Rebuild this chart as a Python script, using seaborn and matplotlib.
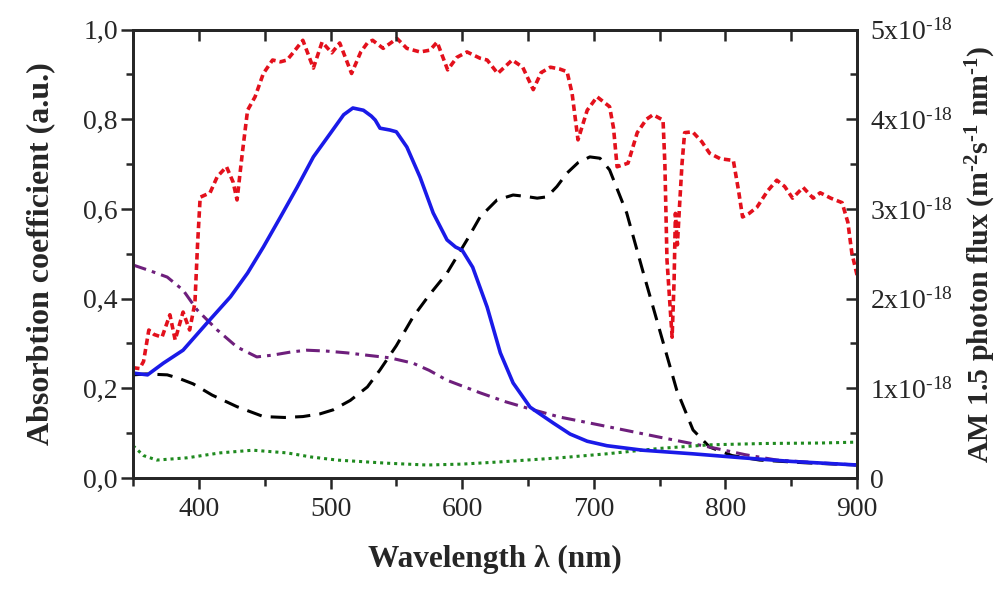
import numpy as np
import pandas as pd
import seaborn as sns
import matplotlib.pyplot as plt
from matplotlib.ticker import MultipleLocator, FixedLocator, FixedFormatter

# blue solid curve (absorption)
wl_blue = [350, 361, 373, 388, 406, 424, 437, 449, 462, 474.6, 487, 500, 510, 517, 525, 531, 534,
           537.6, 545, 550, 558, 568, 578, 588.5, 595, 600, 608, 619, 629, 638.7, 651.6, 669, 682,
           695, 710, 737, 775, 813, 850, 900]
abs_blue = [0.234, 0.23, 0.256, 0.285, 0.345, 0.404, 0.457, 0.515, 0.582, 0.648, 0.716, 0.769, 0.81,
            0.825, 0.82, 0.807, 0.798, 0.78, 0.776, 0.772, 0.738, 0.671, 0.591, 0.531, 0.515, 0.508,
            0.47, 0.381, 0.279, 0.212, 0.158, 0.123, 0.098, 0.082, 0.072, 0.062, 0.054, 0.045,
            0.037, 0.029]

# black dashed curve
wl_black = [350, 360, 376, 385, 395.6, 410, 429, 449, 465, 479, 492, 502, 515, 528, 537.6, 550,
            562.7, 575, 588.5, 603.7, 613.6, 626.5, 638.7, 648, 657, 664.5, 672, 679.7, 688, 697,
            704.7, 712, 725, 737, 750, 763, 775.4, 788, 805, 826, 860, 900]
abs_black = [0.23, 0.232, 0.23, 0.222, 0.21, 0.185, 0.159, 0.137, 0.135, 0.137, 0.143, 0.152, 0.173,
             0.203, 0.241, 0.295, 0.359, 0.408, 0.457, 0.531, 0.582, 0.62, 0.631, 0.628, 0.624,
             0.627, 0.65, 0.68, 0.703, 0.716, 0.713, 0.687, 0.591, 0.464, 0.33, 0.196, 0.107, 0.069,
             0.05, 0.04, 0.034, 0.029]

# purple dash-dot curve
wl_purple = [350, 363, 376, 388, 398.6, 414, 429, 444, 456, 470, 482, 497, 512.6, 530, 545, 562.7,
             575, 588.5, 613.6, 633, 654, 674, 704.7, 750, 788, 815, 839, 870, 900]
abs_purple = [0.475, 0.462, 0.448, 0.419, 0.375, 0.33, 0.292, 0.27, 0.274, 0.281, 0.285, 0.283,
              0.279, 0.273, 0.268, 0.256, 0.24, 0.218, 0.19, 0.17, 0.152, 0.136, 0.118, 0.091,
              0.069, 0.052, 0.04, 0.034, 0.029]

# green dotted curve
wl_green = [350, 358, 368, 391, 416, 441, 467, 485, 505, 543, 573, 600, 629, 674, 710, 750, 788,
            830, 872, 900]
abs_green = [0.072, 0.05, 0.04, 0.045, 0.056, 0.062, 0.056, 0.047, 0.04, 0.033, 0.029, 0.031, 0.036,
             0.045, 0.054, 0.066, 0.074, 0.077, 0.078, 0.08]

# red AM1.5 photon flux, in units of 1e-18 m^-2 s^-1 nm^-1
wl_red = [350, 355, 358, 362, 366, 372, 378, 382, 388, 393, 397, 399, 401, 408.5, 414, 421, 426, 429,
          433, 437, 442.7, 449, 456, 462, 467, 471.5, 479, 487, 493.6, 501, 507, 516, 523, 528, 532,
          540, 550.5, 558, 568, 575.6, 581, 589, 596, 603.7, 613.6, 619, 627, 638, 646, 654, 660,
          667, 674, 679.7, 683.5, 688, 695, 702.5, 712, 715, 717.7, 726, 733, 740, 745, 752.6, 754,
          755.6, 758, 759.5, 761, 762, 763.5, 765, 767, 769, 775, 782, 788, 796, 806, 810, 813, 818,
          824, 832, 839, 845, 851, 859, 866.6, 872, 880, 888.6, 893, 896, 900]
flux_red = [1.23, 1.22, 1.3, 1.65, 1.6, 1.57, 1.82, 1.54, 1.85, 1.65, 1.95, 2.6, 3.13, 3.18, 3.36,
            3.47, 3.3, 3.1, 3.62, 4.1, 4.25, 4.51, 4.66, 4.64, 4.66, 4.74, 4.88, 4.57, 4.86, 4.74,
            4.85, 4.51, 4.75, 4.85, 4.88, 4.79, 4.9, 4.79, 4.75, 4.77, 4.86, 4.55, 4.69, 4.75, 4.68,
            4.66, 4.51, 4.66, 4.58, 4.33, 4.52, 4.58, 4.56, 4.53, 4.29, 3.77, 4.1, 4.25, 4.14, 3.9,
            3.47, 3.51, 3.85, 4.0, 4.05, 3.99, 3.5, 2.43, 1.9, 1.57, 2.2, 2.95, 2.6, 3.0, 3.5, 3.85,
            3.86, 3.75, 3.62, 3.56, 3.54, 3.2, 2.91, 2.95, 3.02, 3.2, 3.32, 3.25, 3.12, 3.24, 3.12,
            3.18, 3.12, 3.07, 2.85, 2.51, 2.26]

left_ticks = [0.0, 0.2, 0.4, 0.6, 0.8, 1.0]
left_labels = ['0,0', '0,2', '0,4', '0,6', '0,8', '1,0']
right_ticks = [0, 1, 2, 3, 4, 5]
right_labels = ['0'] + [f'{n}x10' + r'$^{\text{-}18}$' for n in range(1, 6)]
x_ticks = [400, 500, 600, 700, 800, 900]

sns.set_style('ticks')
plt.rcParams['font.family'] = ['Liberation Serif', 'DejaVu Serif']
plt.rcParams['mathtext.fontset'] = 'custom'
plt.rcParams['mathtext.rm'] = 'Liberation Serif'
plt.rcParams['mathtext.it'] = 'Liberation Serif:italic'
plt.rcParams['mathtext.bf'] = 'Liberation Serif:bold'

fig = plt.figure(figsize=(9.98, 6.05), dpi=100)
ax = fig.add_axes([0.1333, 0.2099, 0.7255, 0.7413])
ax2 = ax.twinx()

sns.lineplot(x=wl_red, y=flux_red, ax=ax2, color='#e3101c', lw=2.6,
             linestyle=(0, (1.8, 1.1)), sort=False, estimator=None)
sns.lineplot(x=wl_black, y=abs_black, ax=ax, color='black', lw=2.2,
             linestyle=(0, (5, 3)), sort=False, estimator=None)
sns.lineplot(x=wl_purple, y=abs_purple, ax=ax, color='#6e1f7c', lw=2.2,
             linestyle=(0, (4.5, 2, 1.2, 2)), sort=False, estimator=None)
sns.lineplot(x=wl_green, y=abs_green, ax=ax, color='#1f8a1f', lw=2.2,
             linestyle=(0, (1, 1.3)), sort=False, estimator=None)
sns.lineplot(x=wl_blue, y=abs_blue, ax=ax, color='#1a1ae8', lw=2.6,
             sort=False, estimator=None)

ax.set_zorder(ax2.get_zorder() + 1)
ax.patch.set_visible(False)

ax.set_xlim(350, 900)
ax.set_ylim(0, 1)
ax2.set_ylim(0, 5)

ax.xaxis.set_major_locator(FixedLocator(x_ticks))
ax.xaxis.set_minor_locator(MultipleLocator(50))
ax.yaxis.set_major_locator(FixedLocator(left_ticks))
ax.yaxis.set_major_formatter(FixedFormatter(left_labels))
ax.yaxis.set_minor_locator(MultipleLocator(0.1))
ax2.yaxis.set_major_locator(FixedLocator(right_ticks))
ax2.yaxis.set_major_formatter(FixedFormatter(right_labels))
ax2.yaxis.set_minor_locator(MultipleLocator(0.5))

ax.tick_params(axis='x', which='major', direction='out', length=8, width=1.8,
               labelsize=20, pad=6, top=False)
ax.tick_params(axis='x', which='minor', direction='out', length=6, width=1.8, top=False)
ax.tick_params(axis='y', which='major', direction='out', length=9, width=1.8,
               labelsize=20, pad=2, right=False)
ax.tick_params(axis='y', which='minor', direction='out', length=5, width=1.8, right=False)
ax2.tick_params(axis='y', which='major', direction='in', length=8, width=1.8,
                labelsize=20, pad=9)
ax2.tick_params(axis='y', which='minor', direction='in', length=5, width=1.8)

top = ax.secondary_xaxis('top')
top.xaxis.set_major_locator(FixedLocator(x_ticks))
top.xaxis.set_minor_locator(MultipleLocator(50))
top.tick_params(which='major', direction='in', length=8, width=1.8, labeltop=False)
top.tick_params(which='minor', direction='in', length=8, width=1.8)

for a in (ax, ax2, top):
    for s in a.spines.values():
        s.set_linewidth(2.0)

ax.set_xlabel('Wavelength λ (nm)', fontsize=22.5, fontweight='bold', labelpad=16)
ax.set_ylabel('Absorbtion coefficient (a.u.)', fontsize=23, fontweight='bold', labelpad=20)
ax2.set_ylabel(r'AM 1.5 photon flux (m$^{\mathbf{\text{-}2}}$s$^{\mathbf{\text{-}1}}$ nm$^{\mathbf{\text{-}1}}$)',
               fontsize=21.5, fontweight='bold', rotation=90, labelpad=8)

fig.savefig('out.png', dpi=100)
